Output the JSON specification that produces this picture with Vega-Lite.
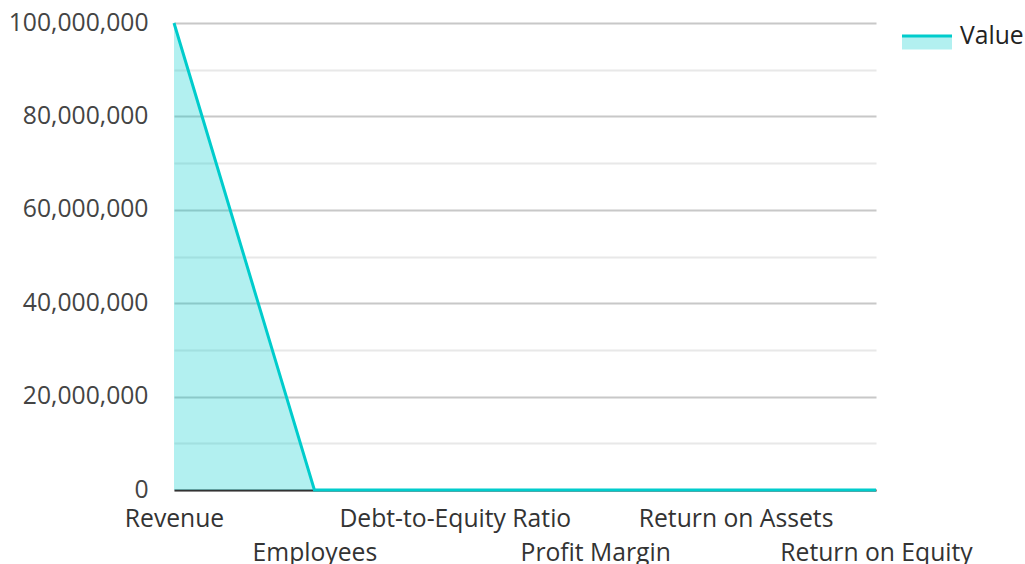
{
  "$schema": "https://vega.github.io/schema/vega-lite/v6.json",
  "width": 702,
  "height": 467,
  "autosize": {"type": "none"},
  "padding": {"left": 174, "top": 23, "right": 149, "bottom": 74},
  "background": "white",
  "config": {
    "font": "Open Sans",
    "view": {"stroke": null},
    "legend": {
      "labelFontSize": 24.7,
      "labelColor": "#222222",
      "labelLimit": 0,
      "symbolStrokeWidth": 3,
      "symbolDash": [50, 500],
      "symbolOpacity": 1
    }
  },
  "data": {
    "values": [
      {"metric": "Revenue", "value": 100000000, "series": "Value"},
      {"metric": "Employees", "value": 500, "series": "Value"},
      {"metric": "Debt-to-Equity Ratio", "value": 1.2, "series": "Value"},
      {"metric": "Profit Margin", "value": 0.15, "series": "Value"},
      {"metric": "Return on Assets", "value": 0.08, "series": "Value"},
      {"metric": "Return on Equity", "value": 0.18, "series": "Value"}
    ]
  },
  "encoding": {
    "x": {
      "field": "metric",
      "type": "nominal",
      "sort": null,
      "scale": {"type": "point", "padding": 0},
      "axis": {
        "title": null,
        "labelAngle": 0,
        "ticks": false,
        "domainColor": "#333333",
        "domainWidth": 2,
        "labelFontSize": 24.7,
        "labelColor": "#333333",
        "labelPadding": 16,
        "labelLineHeight": 34,
        "labelBaseline": "top",
        "labelOverlap": false,
        "labelLimit": 0,
        "labelExpr": "indexof(['Employees','Profit Margin','Return on Equity'], datum.value) >= 0 ? ['', datum.value] : datum.value"
      }
    },
    "y": {
      "field": "value",
      "type": "quantitative",
      "stack": null,
      "scale": {"domain": [0, 100000000], "nice": false},
      "axis": {
        "title": null,
        "domain": false,
        "ticks": false,
        "values": [0, 10000000, 20000000, 30000000, 40000000, 50000000, 60000000, 70000000, 80000000, 90000000, 100000000],
        "labelExpr": "datum.value % 20000000 === 0 ? format(datum.value, ',') : ''",
        "labelFontSize": 24.7,
        "labelColor": "#444444",
        "labelPadding": 26,
        "gridWidth": 2,
        "gridColor": {"condition": {"test": "datum.value % 20000000 === 0", "value": "#c8c8c8"}, "value": "#e8e8e8"}
      }
    }
  },
  "layer": [
    {
      "mark": {"type": "area"},
      "encoding": {
        "fill": {
          "field": "series",
          "type": "nominal",
          "scale": {"range": ["rgba(0,204,204,0.3)"]},
          "legend": {"title": null, "orient": "right", "offset": 31, "labelOffset": 19, "symbolType": "M-2,-0.08H2V1.0H-2Z", "symbolSize": 625}
        }
      }
    },
    {
      "mark": {"type": "line", "strokeWidth": 3},
      "encoding": {
        "stroke": {
          "field": "series",
          "type": "nominal",
          "scale": {"range": ["#00cccc"]},
          "legend": {"title": null, "orient": "right", "offset": 31, "labelOffset": 19, "symbolType": "M-2,-0.08H2V1.0H-2Z", "symbolSize": 625}
        }
      }
    }
  ]
}
